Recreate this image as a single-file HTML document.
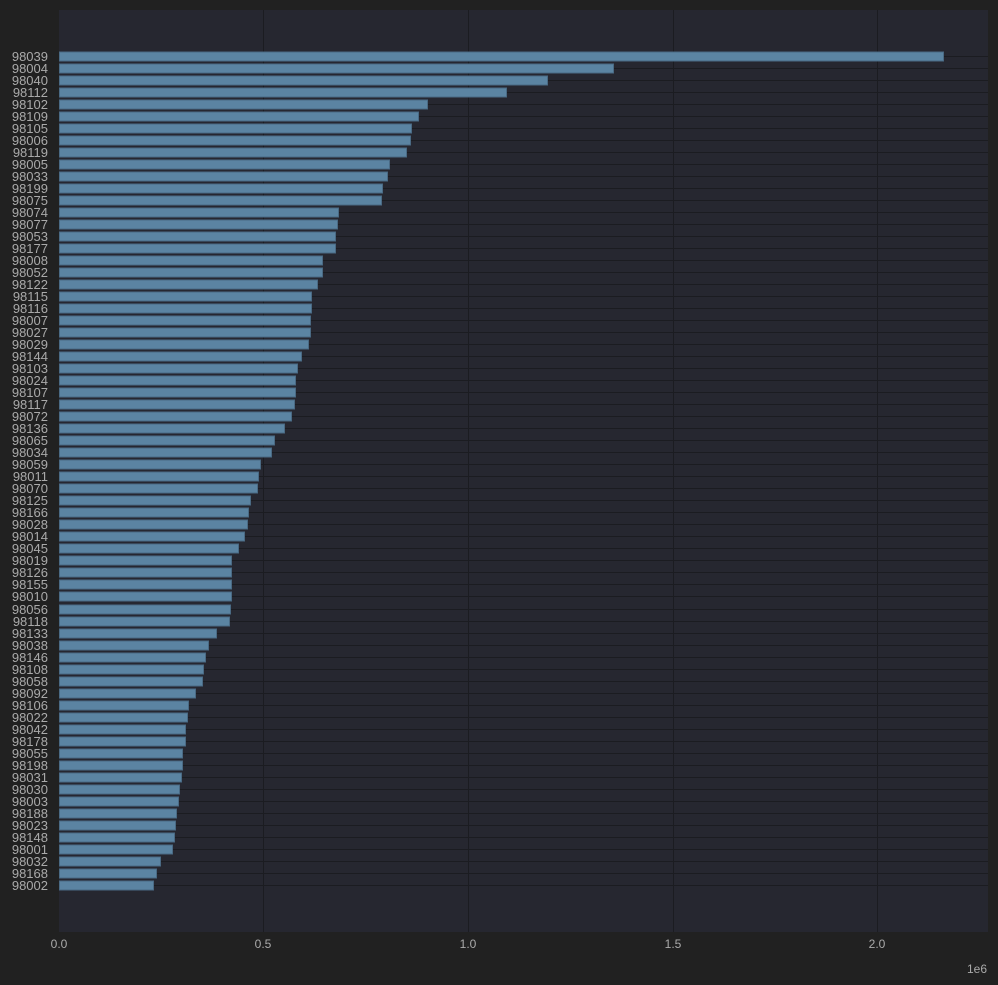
<!DOCTYPE html>
<html><head><meta charset="utf-8"><style>
html,body{margin:0;padding:0;background:#212121;}
svg{display:block;}
text{font-family:"Liberation Sans",sans-serif;fill:#aaaaaa;}
</style></head><body>
<svg width="998" height="985" viewBox="0 0 998 985" xmlns="http://www.w3.org/2000/svg">
<rect x="0" y="0" width="998" height="985" fill="#212121"/>
<rect x="59" y="10" width="929" height="922" fill="#262730"/>
<g stroke="#1b1c21" stroke-width="1">
<line x1="263.5" y1="10" x2="263.5" y2="932"/>
<line x1="468.5" y1="10" x2="468.5" y2="932"/>
<line x1="673.5" y1="10" x2="673.5" y2="932"/>
<line x1="877.5" y1="10" x2="877.5" y2="932"/>
</g>
<g id="rows" font-size="13" text-anchor="end"></g>
<g font-size="12" text-anchor="middle">
<text x="59" y="948">0.0</text>
<text x="263" y="948">0.5</text>
<text x="468" y="948">1.0</text>
<text x="673" y="948">1.5</text>
<text x="877" y="948">2.0</text>
<text x="977" y="973">1e6</text>
</g>
<g font-size="13" text-anchor="end">
<text x="48" y="61">98039</text><text x="48" y="73">98004</text><text x="48" y="85">98040</text><text x="48" y="97">98112</text><text x="48" y="109">98102</text><text x="48" y="121">98109</text><text x="48" y="133">98105</text><text x="48" y="145">98006</text><text x="48" y="157">98119</text><text x="48" y="169">98005</text><text x="48" y="181">98033</text><text x="48" y="193">98199</text><text x="48" y="205">98075</text><text x="48" y="217">98074</text><text x="48" y="229">98077</text><text x="48" y="241">98053</text><text x="48" y="253">98177</text><text x="48" y="265">98008</text><text x="48" y="277">98052</text><text x="48" y="289">98122</text><text x="48" y="301">98115</text><text x="48" y="313">98116</text><text x="48" y="325">98007</text><text x="48" y="337">98027</text><text x="48" y="349">98029</text><text x="48" y="361">98144</text><text x="48" y="373">98103</text><text x="48" y="385">98024</text><text x="48" y="397">98107</text><text x="48" y="409">98117</text><text x="48" y="421">98072</text><text x="48" y="433">98136</text><text x="48" y="445">98065</text><text x="48" y="457">98034</text><text x="48" y="469">98059</text><text x="48" y="481">98011</text><text x="48" y="493">98070</text><text x="48" y="505">98125</text><text x="48" y="517">98166</text><text x="48" y="529">98028</text><text x="48" y="541">98014</text><text x="48" y="553">98045</text><text x="48" y="565">98019</text><text x="48" y="577">98126</text><text x="48" y="589">98155</text><text x="48" y="601">98010</text><text x="48" y="614">98056</text><text x="48" y="626">98118</text><text x="48" y="638">98133</text><text x="48" y="650">98038</text><text x="48" y="662">98146</text><text x="48" y="674">98108</text><text x="48" y="686">98058</text><text x="48" y="698">98092</text><text x="48" y="710">98106</text><text x="48" y="722">98022</text><text x="48" y="734">98042</text><text x="48" y="746">98178</text><text x="48" y="758">98055</text><text x="48" y="770">98198</text><text x="48" y="782">98031</text><text x="48" y="794">98030</text><text x="48" y="806">98003</text><text x="48" y="818">98188</text><text x="48" y="830">98023</text><text x="48" y="842">98148</text><text x="48" y="854">98001</text><text x="48" y="866">98032</text><text x="48" y="878">98168</text><text x="48" y="890">98002</text>
</g>
<g stroke="#1b1c21" stroke-width="1">
<line x1="59" x2="988" y1="56.5" y2="56.5"/><line x1="59" x2="988" y1="68.5" y2="68.5"/><line x1="59" x2="988" y1="80.5" y2="80.5"/><line x1="59" x2="988" y1="92.5" y2="92.5"/><line x1="59" x2="988" y1="104.5" y2="104.5"/><line x1="59" x2="988" y1="116.5" y2="116.5"/><line x1="59" x2="988" y1="128.5" y2="128.5"/><line x1="59" x2="988" y1="140.5" y2="140.5"/><line x1="59" x2="988" y1="152.5" y2="152.5"/><line x1="59" x2="988" y1="164.5" y2="164.5"/><line x1="59" x2="988" y1="176.5" y2="176.5"/><line x1="59" x2="988" y1="188.5" y2="188.5"/><line x1="59" x2="988" y1="200.5" y2="200.5"/><line x1="59" x2="988" y1="212.5" y2="212.5"/><line x1="59" x2="988" y1="224.5" y2="224.5"/><line x1="59" x2="988" y1="236.5" y2="236.5"/><line x1="59" x2="988" y1="248.5" y2="248.5"/><line x1="59" x2="988" y1="260.5" y2="260.5"/><line x1="59" x2="988" y1="272.5" y2="272.5"/><line x1="59" x2="988" y1="284.5" y2="284.5"/><line x1="59" x2="988" y1="296.5" y2="296.5"/><line x1="59" x2="988" y1="308.5" y2="308.5"/><line x1="59" x2="988" y1="320.5" y2="320.5"/><line x1="59" x2="988" y1="332.5" y2="332.5"/><line x1="59" x2="988" y1="344.5" y2="344.5"/><line x1="59" x2="988" y1="356.5" y2="356.5"/><line x1="59" x2="988" y1="368.5" y2="368.5"/><line x1="59" x2="988" y1="380.5" y2="380.5"/><line x1="59" x2="988" y1="392.5" y2="392.5"/><line x1="59" x2="988" y1="404.5" y2="404.5"/><line x1="59" x2="988" y1="416.5" y2="416.5"/><line x1="59" x2="988" y1="428.5" y2="428.5"/><line x1="59" x2="988" y1="440.5" y2="440.5"/><line x1="59" x2="988" y1="452.5" y2="452.5"/><line x1="59" x2="988" y1="464.5" y2="464.5"/><line x1="59" x2="988" y1="476.5" y2="476.5"/><line x1="59" x2="988" y1="488.5" y2="488.5"/><line x1="59" x2="988" y1="500.5" y2="500.5"/><line x1="59" x2="988" y1="512.5" y2="512.5"/><line x1="59" x2="988" y1="524.5" y2="524.5"/><line x1="59" x2="988" y1="536.5" y2="536.5"/><line x1="59" x2="988" y1="548.5" y2="548.5"/><line x1="59" x2="988" y1="560.5" y2="560.5"/><line x1="59" x2="988" y1="572.5" y2="572.5"/><line x1="59" x2="988" y1="584.5" y2="584.5"/><line x1="59" x2="988" y1="596.5" y2="596.5"/><line x1="59" x2="988" y1="609.5" y2="609.5"/><line x1="59" x2="988" y1="621.5" y2="621.5"/><line x1="59" x2="988" y1="633.5" y2="633.5"/><line x1="59" x2="988" y1="645.5" y2="645.5"/><line x1="59" x2="988" y1="657.5" y2="657.5"/><line x1="59" x2="988" y1="669.5" y2="669.5"/><line x1="59" x2="988" y1="681.5" y2="681.5"/><line x1="59" x2="988" y1="693.5" y2="693.5"/><line x1="59" x2="988" y1="705.5" y2="705.5"/><line x1="59" x2="988" y1="717.5" y2="717.5"/><line x1="59" x2="988" y1="729.5" y2="729.5"/><line x1="59" x2="988" y1="741.5" y2="741.5"/><line x1="59" x2="988" y1="753.5" y2="753.5"/><line x1="59" x2="988" y1="765.5" y2="765.5"/><line x1="59" x2="988" y1="777.5" y2="777.5"/><line x1="59" x2="988" y1="789.5" y2="789.5"/><line x1="59" x2="988" y1="801.5" y2="801.5"/><line x1="59" x2="988" y1="813.5" y2="813.5"/><line x1="59" x2="988" y1="825.5" y2="825.5"/><line x1="59" x2="988" y1="837.5" y2="837.5"/><line x1="59" x2="988" y1="849.5" y2="849.5"/><line x1="59" x2="988" y1="861.5" y2="861.5"/><line x1="59" x2="988" y1="873.5" y2="873.5"/><line x1="59" x2="988" y1="885.5" y2="885.5"/>
</g>
<g fill="#5b84a2" stroke="#4a6a84" stroke-width="1">
<rect x="59.5" y="52" width="884" height="9"/><rect x="59.5" y="64" width="554" height="9"/><rect x="59.5" y="76" width="488" height="9"/><rect x="59.5" y="88" width="447" height="9"/><rect x="59.5" y="100" width="368" height="9"/><rect x="59.5" y="112" width="359" height="9"/><rect x="59.5" y="124" width="352" height="9"/><rect x="59.5" y="136" width="351" height="9"/><rect x="59.5" y="148" width="347" height="9"/><rect x="59.5" y="160" width="330" height="9"/><rect x="59.5" y="172" width="328" height="9"/><rect x="59.5" y="184" width="323" height="9"/><rect x="59.5" y="196" width="322" height="9"/><rect x="59.5" y="208" width="279" height="9"/><rect x="59.5" y="220" width="278" height="9"/><rect x="59.5" y="232" width="276" height="9"/><rect x="59.5" y="244" width="276" height="9"/><rect x="59.5" y="256" width="263" height="9"/><rect x="59.5" y="268" width="263" height="9"/><rect x="59.5" y="280" width="258" height="9"/><rect x="59.5" y="292" width="252" height="9"/><rect x="59.5" y="304" width="252" height="9"/><rect x="59.5" y="316" width="251" height="9"/><rect x="59.5" y="328" width="251" height="9"/><rect x="59.5" y="340" width="249" height="9"/><rect x="59.5" y="352" width="242" height="9"/><rect x="59.5" y="364" width="238" height="9"/><rect x="59.5" y="376" width="236" height="9"/><rect x="59.5" y="388" width="236" height="9"/><rect x="59.5" y="400" width="235" height="9"/><rect x="59.5" y="412" width="232" height="9"/><rect x="59.5" y="424" width="225" height="9"/><rect x="59.5" y="436" width="215" height="9"/><rect x="59.5" y="448" width="212" height="9"/><rect x="59.5" y="460" width="201" height="9"/><rect x="59.5" y="472" width="199" height="9"/><rect x="59.5" y="484" width="198" height="9"/><rect x="59.5" y="496" width="191" height="9"/><rect x="59.5" y="508" width="189" height="9"/><rect x="59.5" y="520" width="188" height="9"/><rect x="59.5" y="532" width="185" height="9"/><rect x="59.5" y="544" width="179" height="9"/><rect x="59.5" y="556" width="172" height="9"/><rect x="59.5" y="568" width="172" height="9"/><rect x="59.5" y="580" width="172" height="9"/><rect x="59.5" y="592" width="172" height="9"/><rect x="59.5" y="605" width="171" height="9"/><rect x="59.5" y="617" width="170" height="9"/><rect x="59.5" y="629" width="157" height="9"/><rect x="59.5" y="641" width="149" height="9"/><rect x="59.5" y="653" width="146" height="9"/><rect x="59.5" y="665" width="144" height="9"/><rect x="59.5" y="677" width="143" height="9"/><rect x="59.5" y="689" width="136" height="9"/><rect x="59.5" y="701" width="129" height="9"/><rect x="59.5" y="713" width="128" height="9"/><rect x="59.5" y="725" width="126" height="9"/><rect x="59.5" y="737" width="126" height="9"/><rect x="59.5" y="749" width="123" height="9"/><rect x="59.5" y="761" width="123" height="9"/><rect x="59.5" y="773" width="122" height="9"/><rect x="59.5" y="785" width="120" height="9"/><rect x="59.5" y="797" width="119" height="9"/><rect x="59.5" y="809" width="117" height="9"/><rect x="59.5" y="821" width="116" height="9"/><rect x="59.5" y="833" width="115" height="9"/><rect x="59.5" y="845" width="113" height="9"/><rect x="59.5" y="857" width="101" height="9"/><rect x="59.5" y="869" width="97" height="9"/><rect x="59.5" y="881" width="94" height="9"/>
</g>
</svg>
</body></html>
